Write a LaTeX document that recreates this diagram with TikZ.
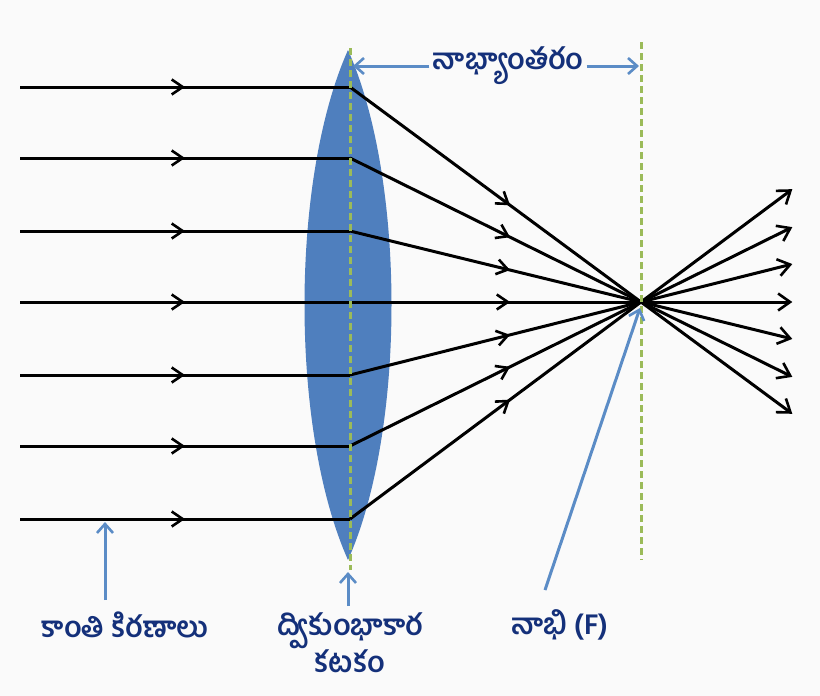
\documentclass[tikz,border=0pt]{standalone}
\usepackage{fontspec}
\newfontfamily\te[Script=Telugu]{Hind Guntur}
\usetikzlibrary{arrows.meta,decorations.markings,calc}
\definecolor{lensc}{HTML}{4F7FBE}
\definecolor{navy}{HTML}{14307A}
\definecolor{lblue}{HTML}{5B8CC6}
\definecolor{dgreen}{HTML}{9BBB59}
\tikzset{
 ray/.style={line width=3pt,black},
 midarrow/.style={postaction={decorate},decoration={markings,mark=at position #1 with {\arrow{Straight Barb[length=11pt,width=15pt,line width=2.6pt]}}}},
 lbl/.style={text=navy,font=\te\bfseries\fontsize{29}{33}\selectfont,align=center},
 barrow/.style={lblue,line width=3pt,-{Straight Barb[length=9pt,width=16pt,line width=2.6pt]}},
 fdash/.style={dgreen,line width=3pt,dash pattern=on 7pt off 4pt}
}
\begin{document}
\begin{tikzpicture}[x=1pt,y=-1pt]
\fill[white!96!gray] (0,0) rectangle (820,696);
\useasboundingbox (0,0) rectangle (820,696);
\fill[lensc] (348,50) .. controls (290,180) and (290,430) .. (348,560) .. controls (406,430) and (406,180) .. (348,50);
\coordinate (F) at (641,302);
\foreach \y in {87,158,231,302,375,446,519}{
  \coordinate (s) at (20,\y);
  \coordinate (l) at (350,\y);
  \draw[ray,midarrow=0.5] (s) -- (l);
  \draw[ray,midarrow=0.55] (l) -- (F);
  \draw[ray,-{Straight Barb[length=12pt,width=17pt,line width=2.6pt]}] (F) -- ($(F)!-0.52!(l)$);
}
\draw[fdash] (350,48) -- (350,570);
\draw[fdash] (641,42) -- (641,560);
\node[lbl] (fl) at (508,66) {నాభ్యాంతరం};
\draw[barrow] (fl.west) -- (353,66);
\draw[barrow] (fl.east) -- (639,66);
\node[lbl] (lr) at (125,625) {కాంతి కిరణాలు};
\draw[barrow] (105,600) -- (105,522);
\node[lbl] (lk) at (350,643) {ద్వికుంభాకార\\కటకం};
\draw[barrow] (348,606) -- (348,572);
\node[lbl] (lf) at (560,625) {నాభి (F)};
\draw[barrow] (545,590) -- ($(F)+(-1,6)$);
\end{tikzpicture}
\end{document}
